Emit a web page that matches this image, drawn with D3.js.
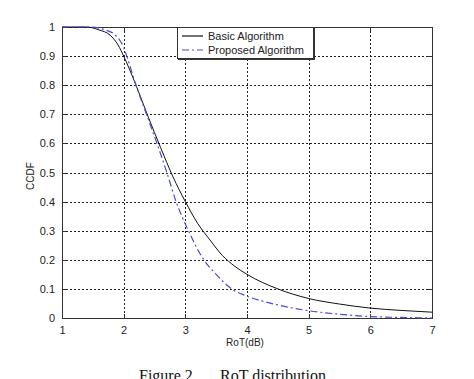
<!DOCTYPE html>
<meta charset="utf-8">
<style>
  body { margin: 0; background: #fff; }
  .grid line { stroke: #222; stroke-dasharray: 2,2; shape-rendering: crispEdges; }
  .axis text { font-family: "Liberation Sans", Arial, sans-serif; font-size: 11px; fill: #222; }
  .axis path, .axis line { stroke: #333; shape-rendering: crispEdges; }
</style>
<body>
<div id="chart"></div>
<script src="https://d3js.org/d3.v7.min.js"></script>
<script>
// values
var basicX = [1, 1.4, 1.6, 1.78, 1.91, 2, 2.2, 2.4, 2.6, 2.8, 3, 3.2, 3.4, 3.6, 3.8, 4, 4.5, 5, 5.5, 6, 6.5, 7];
var basicY = [1, 1, 0.99, 0.972, 0.938, 0.9, 0.8, 0.69, 0.585, 0.485, 0.4, 0.325, 0.268, 0.215, 0.178, 0.15, 0.1, 0.067, 0.048, 0.034, 0.026, 0.02];

var propX = [1, 1.45, 1.7, 1.85, 1.95, 2, 2.05, 2.2, 2.37, 2.54, 2.7, 2.85, 3.05, 3.3, 3.5, 3.75, 4, 4.5, 5, 5.5, 6, 6.5, 7];
var propY = [1, 1, 0.99, 0.975, 0.95, 0.93, 0.9, 0.8, 0.7, 0.6, 0.5, 0.4, 0.3, 0.2, 0.15, 0.1, 0.075, 0.045, 0.025, 0.013, 0.005, 0.002, 0];

var xTicks = [1, 2, 3, 4, 5, 6, 7];
var yTicks = [0, 0.1, 0.2, 0.3, 0.4, 0.5, 0.6, 0.7, 0.8, 0.9, 1];
var legendLabels = ["Basic Algorithm", "Proposed Algorithm"];

var width = 474,
    height = 379;
// plot box edges (avoid window.top)
var pL = 62, pT = 27, pR = 432, pB = 318;

var svg = d3.select("#chart").append("svg")
    .attr("width", width)
    .attr("height", height);

var x = d3.scaleLinear().domain([1, 7]).range([pL, pR]);
var y = d3.scaleLinear().domain([0, 1]).range([pB, pT]);

// white plot area
svg.append("rect")
    .attr("x", pL).attr("y", pT)
    .attr("width", pR - pL).attr("height", pB - pT)
    .attr("fill", "#fff");

// dotted grid
var grid = svg.append("g").attr("class", "grid");
grid.selectAll(".gx")
    .data(xTicks.slice(1, -1))
  .enter().append("line")
    .attr("x1", function(d) { return Math.round(x(d)) + 0.5; })
    .attr("x2", function(d) { return Math.round(x(d)) + 0.5; })
    .attr("y1", pT).attr("y2", pB);
grid.selectAll(".gy")
    .data(yTicks.slice(1, -1))
  .enter().append("line")
    .attr("y1", function(d) { return Math.round(y(d)) + 0.5; })
    .attr("y2", function(d) { return Math.round(y(d)) + 0.5; })
    .attr("x1", pL).attr("x2", pR);

// axes, matlab style ticks pointing inward
svg.append("g")
    .attr("class", "axis")
    .attr("transform", "translate(0," + pB + ")")
    .call(d3.axisBottom(x).tickValues(xTicks).tickSize(-4).tickPadding(8).tickFormat(d3.format("d")));
svg.append("g")
    .attr("class", "axis")
    .attr("transform", "translate(" + pL + ",0)")
    .call(d3.axisLeft(y).tickValues(yTicks).tickSize(-4).tickPadding(7).tickFormat(function(d) { return d === 0 || d === 1 ? d3.format("d")(d) : d3.format(".1f")(d); }));
svg.append("g")
    .attr("class", "axis")
    .attr("transform", "translate(0," + pT + ")")
    .call(d3.axisTop(x).tickValues(xTicks).tickSize(-4).tickFormat(""));
svg.append("g")
    .attr("class", "axis")
    .attr("transform", "translate(" + pR + ",0)")
    .call(d3.axisRight(y).tickValues(yTicks).tickSize(-4).tickFormat(""));

svg.selectAll(".axis .domain").attr("stroke", "#444");

// curves
var line = d3.line()
    .x(function(d) { return x(d[0]); })
    .y(function(d) { return y(d[1]); })
    .curve(d3.curveMonotoneX);

svg.append("path")
    .datum(d3.zip(basicX, basicY))
    .attr("d", line)
    .attr("fill", "none")
    .attr("stroke", "#111")
    .attr("stroke-width", 1);

svg.append("path")
    .datum(d3.zip(propX, propY))
    .attr("d", line)
    .attr("fill", "none")
    .attr("stroke", "#4a4ad8")
    .attr("stroke-width", 1.2)
    .attr("stroke-dasharray", "7,3,2,3");

// legend
var lg = svg.append("g").attr("transform", "translate(177,27)");
lg.append("rect")
    .attr("x", 1).attr("y", 1)
    .attr("width", 137).attr("height", 32)
    .attr("fill", "#333");
lg.append("rect")
    .attr("x", 0).attr("y", 0)
    .attr("width", 136).attr("height", 31)
    .attr("fill", "#fff")
    .attr("stroke", "#333")
    .attr("stroke-width", 1)
    .attr("shape-rendering", "crispEdges");
var styles = [{ c: "#111", d: null }, { c: "#4a4ad8", d: "7,3,2,3" }];
legendLabels.forEach(function(t, i) {
  var yy = 9 + i * 14;
  lg.append("line")
      .attr("x1", 5).attr("x2", 26)
      .attr("y1", yy).attr("y2", yy)
      .attr("stroke", styles[i].c)
      .attr("stroke-width", 1.2)
      .attr("stroke-dasharray", styles[i].d);
  lg.append("text")
      .attr("x", 31).attr("y", yy + 4)
      .style("font-family", "'Liberation Sans', Arial, sans-serif")
      .style("font-size", "11px")
      .attr("fill", "#222")
      .text(t);
});

// axis titles
svg.append("text")
    .attr("x", 245).attr("y", 346)
    .attr("text-anchor", "middle")
    .style("font-family", "'Liberation Sans', Arial, sans-serif")
    .style("font-size", "10px")
    .attr("fill", "#222")
    .text("RoT(dB)");
svg.append("text")
    .attr("transform", "translate(34,176) rotate(-90)")
    .attr("text-anchor", "middle")
    .style("font-family", "'Liberation Sans', Arial, sans-serif")
    .style("font-size", "10px")
    .attr("fill", "#222")
    .text("CCDF");

// caption (cut by the bottom edge, as in the source figure)
svg.append("text")
    .attr("x", 139).attr("y", 381)
    .style("font-family", "'Liberation Serif', 'Times New Roman', serif")
    .style("font-size", "16px")
    .attr("fill", "#111")
    .text("Figure 2");
svg.append("text")
    .attr("x", 220).attr("y", 381)
    .style("font-family", "'Liberation Serif', 'Times New Roman', serif")
    .style("font-size", "16px")
    .attr("fill", "#111")
    .text("RoT distribution");
</script>
</body>
